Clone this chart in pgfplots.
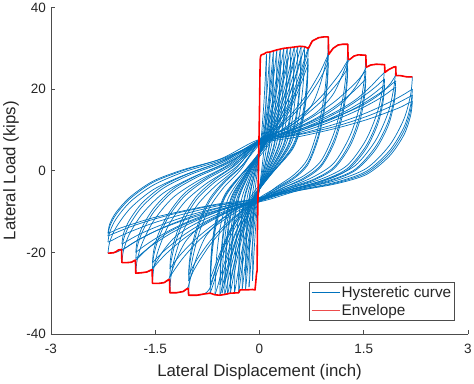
\documentclass[border=0pt]{standalone}
\usepackage{fontspec}
\setmainfont{Liberation Sans}
\usepackage{pgfplots}
\pgfplotsset{compat=1.18}
\definecolor{hblue}{rgb}{0,0.447,0.741}
\definecolor{axgray}{gray}{0.3}
\definecolor{legred}{rgb}{0.93,0.3,0.3}
\pgfplotsset{hy/.style={color=hblue, line width=0.7bp, smooth, forget plot, mark=none}}
\begin{document}
\begin{tikzpicture}
\begin{axis}[
  scale only axis, width=417bp, height=326.5bp,
  xmin=-3, xmax=3, ymin=-40, ymax=40,
  axis lines=left, axis line style={-, draw=axgray, line width=0.6bp},
  xtick={-3,-1.5,0,1.5,3}, xticklabels={-3,-1.5,0,1.5,3},
  ytick={-40,-20,0,20,40}, yticklabels={-40,-20,0,20,40},
  tick align=inside, major tick length=4bp,
  tick style={draw=axgray, line width=0.6bp},
  ticklabel style={font=\fontsize{13.5bp}{16bp}\selectfont, text=black!85},
  xticklabel style={yshift=-7bp},
  yticklabel style={xshift=-1.5bp},
  xlabel={Lateral Displacement (inch)}, ylabel={Lateral Load (kips)},
  every axis x label/.style={at={(axis description cs:0.5,0)}, anchor=center, yshift=-38.3bp,
    font=\fontsize{16.8bp}{20bp}\selectfont, text=black!85},
  every axis y label/.style={at={(axis description cs:-0.096,0.5)}, rotate=90, anchor=center,
    font=\fontsize{16.8bp}{20bp}\selectfont, text=black!85},
  legend cell align=left,
  legend style={at={(0.969,0.04)}, anchor=south east, draw=axgray, line width=0.6bp, fill=white,
    font=\fontsize{15.3bp}{17bp}\selectfont, text=black!85, row sep=3bp, inner sep=2bp,
    nodes={inner sep=1.5bp}},
  legend image code/.code={\draw[#1] (0bp,0bp) -- (28bp,0bp);},
]
% ---------------- small cycles ----------------
\addplot[hy] coordinates {(-0.1,-27) (-0.097,-19.4) (-0.088,-12.2) (-0.07,-5.9) (-0.04,-1.4) (0,4.2) (0.03,9.1) (0.06,15.7) (0.082,22.2) (0.094,26.5) (0.1,28.5)};
\addplot[hy] coordinates {(0.1,28.5) (0.097,20.5) (0.088,12.8) (0.07,6.3) (0.04,1.4) (0,-4.2) (-0.03,-8.6) (-0.06,-14.9) (-0.082,-21.1) (-0.094,-25.1) (-0.1,-27)};
\addplot[hy] coordinates {(-0.15,-28.5) (-0.146,-20.5) (-0.132,-12.8) (-0.105,-6.3) (-0.06,-1.4) (0,4.3) (0.045,9.3) (0.09,16) (0.123,22.6) (0.141,27) (0.15,29)};
\addplot[hy] coordinates {(0.15,29) (0.146,20.9) (0.132,13.1) (0.105,6.4) (0.06,1.5) (0,-4.3) (-0.045,-9.1) (-0.09,-15.7) (-0.123,-22.2) (-0.141,-26.5) (-0.15,-28.5)};
\addplot[hy] coordinates {(-0.2,-29) (-0.194,-20.9) (-0.176,-13.1) (-0.14,-6.4) (-0.08,-1.5) (0,4.4) (0.06,9.4) (0.12,16.1) (0.164,22.9) (0.188,27.2) (0.2,29.3)};
\addplot[hy] coordinates {(0.2,29.3) (0.194,21.1) (0.176,13.2) (0.14,6.4) (0.08,1.5) (0,-4.4) (-0.06,-9.3) (-0.12,-16) (-0.164,-22.6) (-0.188,-27) (-0.2,-29)};
\addplot[hy] coordinates {(-0.2,-25.5) (-0.194,-18.4) (-0.176,-11.5) (-0.14,-5.6) (-0.08,-1.3) (0,3.9) (0.06,8.3) (0.12,14.3) (0.164,20.3) (0.188,24.2) (0.2,26)};
\addplot[hy] coordinates {(0.2,26) (0.194,18.7) (0.176,11.7) (0.14,5.7) (0.08,1.3) (0,-3.9) (-0.06,-8.2) (-0.12,-14) (-0.164,-19.9) (-0.188,-23.7) (-0.2,-25.5)};
\addplot[hy] coordinates {(-0.25,-29.2) (-0.243,-21) (-0.22,-13.1) (-0.175,-6.4) (-0.1,-1.5) (0,4.4) (0.075,9.5) (0.15,16.3) (0.205,23.1) (0.235,27.5) (0.25,29.6)};
\addplot[hy] coordinates {(0.25,29.6) (0.243,21.3) (0.22,13.3) (0.175,6.5) (0.1,1.5) (0,-4.4) (-0.075,-9.3) (-0.15,-16.1) (-0.205,-22.8) (-0.235,-27.2) (-0.25,-29.2)};
\addplot[hy] coordinates {(-0.3,-29.9) (-0.291,-21.5) (-0.264,-13.5) (-0.21,-6.6) (-0.12,-1.5) (0,4.5) (0.09,9.5) (0.18,16.4) (0.246,23.2) (0.282,27.7) (0.3,29.8)};
\addplot[hy] coordinates {(0.3,29.8) (0.291,21.5) (0.264,13.4) (0.21,6.6) (0.12,1.5) (0,-4.5) (-0.09,-9.6) (-0.18,-16.4) (-0.246,-23.3) (-0.282,-27.8) (-0.3,-29.9)};
\addplot[hy] coordinates {(-0.3,-26.8) (-0.291,-19.3) (-0.264,-12.1) (-0.21,-5.9) (-0.12,-1.3) (0,4) (0.09,8.6) (0.18,14.9) (0.246,21.1) (0.282,25.1) (0.3,27)};
\addplot[hy] coordinates {(0.3,27) (0.291,19.4) (0.264,12.2) (0.21,5.9) (0.12,1.4) (0,-4) (-0.09,-8.6) (-0.18,-14.7) (-0.246,-20.9) (-0.282,-24.9) (-0.3,-26.8)};
\addplot[hy] coordinates {(-0.36,-29.9) (-0.349,-21.5) (-0.317,-13.5) (-0.252,-6.6) (-0.144,-1.5) (0,4.5) (0.105,9.6) (0.21,16.5) (0.287,23.4) (0.329,27.9) (0.35,30)};
\addplot[hy] coordinates {(0.35,30) (0.34,21.6) (0.308,13.5) (0.245,6.6) (0.14,1.5) (0,-4.5) (-0.108,-9.6) (-0.216,-16.5) (-0.295,-23.4) (-0.338,-27.9) (-0.36,-29.9)};
\addplot[hy] coordinates {(-0.42,-30) (-0.407,-21.6) (-0.37,-13.5) (-0.294,-6.6) (-0.168,-1.5) (0,4.5) (0.12,9.6) (0.24,16.6) (0.328,23.5) (0.376,28) (0.4,30.1)};
\addplot[hy] coordinates {(0.4,30.1) (0.388,21.7) (0.352,13.5) (0.28,6.6) (0.16,1.5) (0,-4.5) (-0.126,-9.6) (-0.252,-16.5) (-0.344,-23.4) (-0.395,-27.9) (-0.42,-30)};
\addplot[hy] coordinates {(-0.42,-27.5) (-0.407,-19.8) (-0.37,-12.4) (-0.294,-6.1) (-0.168,-1.4) (0,4.1) (0.12,8.8) (0.24,15.1) (0.328,21.5) (0.376,25.6) (0.4,27.5)};
\addplot[hy] coordinates {(0.4,27.5) (0.388,19.8) (0.352,12.4) (0.28,6.1) (0.16,1.4) (0,-4.1) (-0.126,-8.8) (-0.252,-15.1) (-0.344,-21.5) (-0.395,-25.6) (-0.42,-27.5)};
\addplot[hy] coordinates {(-0.46,-30.3) (-0.446,-21.8) (-0.405,-13.6) (-0.322,-6.7) (-0.184,-1.5) (0,4.5) (0.135,9.7) (0.27,16.6) (0.369,23.6) (0.423,28.1) (0.45,30.2)};
\addplot[hy] coordinates {(0.45,30.2) (0.437,21.7) (0.396,13.6) (0.315,6.6) (0.18,1.5) (0,-4.5) (-0.138,-9.7) (-0.276,-16.7) (-0.377,-23.6) (-0.432,-28.2) (-0.46,-30.3)};
\addplot[hy] coordinates {(-0.5,-30.3) (-0.485,-21.8) (-0.44,-13.6) (-0.35,-6.7) (-0.2,-1.5) (0,4.5) (0.15,9.7) (0.3,16.7) (0.41,23.6) (0.47,28.2) (0.5,30.3)};
\addplot[hy] coordinates {(0.5,30.3) (0.485,21.8) (0.44,13.6) (0.35,6.7) (0.2,1.5) (0,-4.5) (-0.15,-9.7) (-0.3,-16.7) (-0.41,-23.6) (-0.47,-28.2) (-0.5,-30.3)};
\addplot[hy] coordinates {(-0.5,-27.5) (-0.485,-19.8) (-0.44,-12.4) (-0.35,-6.1) (-0.2,-1.4) (0,4.1) (0.15,8.9) (0.3,15.3) (0.41,21.7) (0.47,25.9) (0.5,27.8)};
\addplot[hy] coordinates {(0.5,27.8) (0.485,20) (0.44,12.5) (0.35,6.1) (0.2,1.4) (0,-4.1) (-0.15,-8.8) (-0.3,-15.1) (-0.41,-21.5) (-0.47,-25.6) (-0.5,-27.5)};
\addplot[hy] coordinates {(-0.54,-30) (-0.524,-21.6) (-0.475,-13.5) (-0.378,-6.6) (-0.216,-1.5) (0,4.5) (0.165,9.7) (0.33,16.7) (0.451,23.7) (0.517,28.3) (0.55,30.4)};
\addplot[hy] coordinates {(0.55,30.4) (0.534,21.9) (0.484,13.7) (0.385,6.7) (0.22,1.5) (0,-4.5) (-0.162,-9.6) (-0.324,-16.5) (-0.443,-23.4) (-0.508,-27.9) (-0.54,-30)};
\addplot[hy] coordinates {(-0.57,-30.5) (-0.553,-22) (-0.502,-13.7) (-0.399,-6.7) (-0.228,-1.5) (0,4.6) (0.18,9.8) (0.36,16.8) (0.492,23.8) (0.564,28.4) (0.6,30.5)};
\addplot[hy] coordinates {(0.6,30.5) (0.582,22) (0.528,13.7) (0.42,6.7) (0.24,1.5) (0,-4.6) (-0.171,-9.8) (-0.342,-16.8) (-0.467,-23.8) (-0.536,-28.4) (-0.57,-30.5)};
\addplot[hy] coordinates {(-0.57,-28) (-0.553,-20.2) (-0.502,-12.6) (-0.399,-6.2) (-0.228,-1.4) (0,4.2) (0.18,9) (0.36,15.4) (0.492,21.8) (0.564,26) (0.6,28)};
\addplot[hy] coordinates {(0.6,28) (0.582,20.2) (0.528,12.6) (0.42,6.2) (0.24,1.4) (0,-4.2) (-0.171,-9) (-0.342,-15.4) (-0.467,-21.8) (-0.536,-26) (-0.57,-28)};
\addplot[hy] coordinates {(-0.64,-30.4) (-0.621,-21.9) (-0.563,-13.7) (-0.448,-6.7) (-0.256,-1.5) (0,4.5) (0.195,9.7) (0.39,16.7) (0.533,23.6) (0.611,28.2) (0.65,30.3)};
\addplot[hy] coordinates {(0.65,30.3) (0.631,21.8) (0.572,13.6) (0.455,6.7) (0.26,1.5) (0,-4.5) (-0.192,-9.7) (-0.384,-16.7) (-0.525,-23.7) (-0.602,-28.3) (-0.64,-30.4)};
\addplot[hy] coordinates {(-0.71,-30) (-0.689,-21.6) (-0.625,-13.5) (-0.497,-6.6) (-0.284,-1.5) (0,4.5) (0.21,9.6) (0.42,16.5) (0.574,23.4) (0.658,27.9) (0.7,30)};
\addplot[hy] coordinates {(0.7,30) (0.679,21.6) (0.616,13.5) (0.49,6.6) (0.28,1.5) (0,-4.5) (-0.213,-9.6) (-0.426,-16.5) (-0.582,-23.4) (-0.667,-27.9) (-0.71,-30)};
\addplot[hy] coordinates {(-0.71,-28) (-0.689,-20.2) (-0.625,-12.6) (-0.497,-6.2) (-0.284,-1.4) (0,4.1) (0.21,8.8) (0.42,15.1) (0.574,21.5) (0.658,25.6) (0.7,27.5)};
\addplot[hy] coordinates {(0.7,27.5) (0.679,19.8) (0.616,12.4) (0.49,6.1) (0.28,1.4) (0,-4.1) (-0.213,-9) (-0.426,-15.4) (-0.582,-21.8) (-0.667,-26) (-0.71,-28)};
\addplot[hy] coordinates {(-0.71,-26.5) (-0.689,-19.1) (-0.625,-11.9) (-0.497,-5.8) (-0.284,-1.3) (0,3.5) (0.21,8.3) (0.42,14.3) (0.574,20.3) (0.658,24.2) (0.7,26)};
\addplot[hy] coordinates {(0.7,26) (0.679,18.7) (0.616,11.7) (0.49,5.7) (0.28,1.3) (0,-3.5) (-0.213,-8.5) (-0.426,-14.6) (-0.582,-20.7) (-0.667,-24.6) (-0.71,-26.5)};
% ---------------- large cycles ----------------
% amplitude ~1.0
\addplot[hy] coordinates {(-1.02,-30.5) (-1.008,-26.6) (-0.964,-21.6) (-0.867,-15.1) (-0.714,-8.9) (-0.51,-4.0) (-0.255,0.6) (0,7.5) (0.2,10.5) (0.4,15) (0.55,21) (0.65,26.5) (0.72,30.5) (0.76,31.8) (0.85,32.6) (0.93,32.8) (0.99,32.8)};
\addplot[hy] coordinates {(0.99,32.8) (0.978,26.9) (0.936,19.0) (0.842,10.4) (0.693,2.9) (0.495,-1.0) (0.248,-3.9) (0,-7.2) (-0.2,-9.8) (-0.4,-14) (-0.55,-20) (-0.65,-25.5) (-0.72,-29) (-0.8,-30.2) (-0.9,-30.5) (-1.02,-30.5)};
\addplot[hy] coordinates {(-1.02,-27) (-1.008,-23.5) (-0.964,-19.0) (-0.867,-13.1) (-0.714,-7.4) (-0.51,-3.0) (-0.255,1.2) (0,7) (0.248,10.4) (0.495,14.6) (0.693,19.0) (0.842,23.2) (0.921,25.9) (0.96,27.4) (0.99,28.5)};
\addplot[hy] coordinates {(0.99,28.5) (0.978,23.3) (0.936,16.3) (0.842,8.5) (0.693,1.9) (0.495,-1.6) (0.248,-4.1) (0,-6.6) (-0.255,-10) (-0.51,-14.1) (-0.714,-18.2) (-0.867,-22.1) (-0.949,-24.5) (-0.989,-26) (-1.02,-27)};
\addplot[hy] coordinates {(-1.02,-25.5) (-1.008,-22.1) (-0.964,-17.8) (-0.867,-12.2) (-0.714,-6.8) (-0.51,-2.6) (-0.255,1.2) (0,6.4) (0.248,9.9) (0.495,13.9) (0.693,17.9) (0.842,21.7) (0.921,24.1) (0.96,25.5) (0.99,26.5)};
\addplot[hy] coordinates {(0.99,26.5) (0.978,21.6) (0.936,15) (0.842,7.7) (0.693,1.4) (0.495,-1.9) (0.248,-4.4) (0,-7.4) (-0.255,-9.9) (-0.51,-13.5) (-0.714,-17.3) (-0.867,-20.9) (-0.949,-23.2) (-0.989,-24.6) (-1.02,-25.5)};
% amplitude ~1.27
\addplot[hy] coordinates {(-1.29,-29.9) (-1.275,-26.1) (-1.219,-21.2) (-1.097,-14.8) (-0.903,-8.6) (-0.645,-3.9) (-0.323,0.8) (0,7.8) (0.3,9.6) (0.55,12.2) (0.75,16) (0.87,21) (0.95,26) (1.0,28.6) (1.06,30.0) (1.13,30.8) (1.2,31.0) (1.27,31.0)};
\addplot[hy] coordinates {(1.27,31) (1.255,25.4) (1.2,17.9) (1.08,9.6) (0.889,2.5) (0.635,-1.25) (0.318,-3.9) (0,-6.8) (-0.3,-9) (-0.55,-12) (-0.77,-16) (-0.9,-21) (-0.98,-25.5) (-1.03,-28.6) (-1.10,-29.6) (-1.2,-29.9) (-1.29,-29.9)};
\addplot[hy] coordinates {(-1.29,-26) (-1.275,-22.6) (-1.219,-18.2) (-1.097,-12.5) (-0.903,-7.0) (-0.645,-2.8) (-0.323,1.1) (0,6.8) (0.318,10.0) (0.635,14.1) (0.889,18.2) (1.08,22.1) (1.181,24.5) (1.232,26.0) (1.27,27)};
\addplot[hy] coordinates {(1.27,27) (1.255,22.0) (1.2,15.3) (1.08,7.9) (0.889,1.5) (0.635,-1.8) (0.318,-4.4) (0,-7.6) (-0.323,-10) (-0.645,-13.7) (-0.903,-17.6) (-1.097,-21.3) (-1.2,-23.7) (-1.251,-25) (-1.29,-26)};
\addplot[hy] coordinates {(-1.29,-24) (-1.275,-20.8) (-1.219,-16.7) (-1.097,-11.3) (-0.903,-6.2) (-0.645,-2.2) (-0.323,1.7) (0,7.3) (0.318,9.8) (0.635,13.3) (0.889,17.0) (1.08,20.6) (1.181,22.8) (1.232,24.1) (1.27,25)};
\addplot[hy] coordinates {(1.27,25) (1.255,20.3) (1.2,14) (1.08,7) (0.889,1.1) (0.635,-2.1) (0.318,-4.3) (0,-7) (-0.323,-9.5) (-0.645,-13) (-0.903,-16.5) (-1.097,-19.8) (-1.2,-21.9) (-1.251,-23.1) (-1.29,-24)};
% amplitude ~1.53
\addplot[hy] coordinates {(-1.54,-27.6) (-1.522,-24) (-1.455,-19.4) (-1.309,-13.4) (-1.078,-7.7) (-0.77,-3.2) (-0.385,1.1) (0,7.6) (0.4,10.2) (0.8,14) (1.05,18.5) (1.18,23) (1.26,26.3) (1.30,27.3) (1.36,28.1) (1.42,28.4) (1.53,28.3)};
\addplot[hy] coordinates {(1.53,28.3) (1.512,23.1) (1.446,16.1) (1.301,8.5) (1.071,1.9) (0.765,-1.6) (0.383,-4.3) (0,-7.3) (-0.4,-9.7) (-0.8,-13) (-1.05,-17) (-1.19,-21.5) (-1.27,-25) (-1.31,-26.7) (-1.37,-27.4) (-1.45,-27.6) (-1.54,-27.6)};
\addplot[hy] coordinates {(-1.54,-24) (-1.522,-20.8) (-1.455,-16.7) (-1.309,-11.3) (-1.078,-6.2) (-0.77,-2.2) (-0.385,1.5) (0,6.6) (0.383,9.6) (0.765,13.2) (1.071,16.8) (1.301,20.2) (1.423,22.3) (1.484,23.6) (1.53,24.5)};
\addplot[hy] coordinates {(1.53,24.5) (1.512,19.85) (1.446,13.65) (1.301,6.8) (1.071,0.9) (0.765,-2.2) (0.383,-4.3) (0,-6.7) (-0.385,-9.5) (-0.77,-13) (-1.078,-16.5) (-1.309,-19.8) (-1.432,-21.9) (-1.494,-23.1) (-1.54,-24)};
\addplot[hy] coordinates {(-1.54,-22.5) (-1.522,-19.5) (-1.455,-15.5) (-1.309,-10.5) (-1.078,-5.5) (-0.77,-1.8) (-0.385,1.9) (0,7.2) (0.383,9.4) (0.765,12.4) (1.071,15.6) (1.301,18.7) (1.423,20.6) (1.484,21.7) (1.53,22.5)};
\addplot[hy] coordinates {(1.53,22.5) (1.512,18.15) (1.446,12.35) (1.301,6) (1.071,0.5) (0.765,-2.4) (0.383,-4.6) (0,-7.5) (-0.385,-9.4) (-0.77,-12.4) (-1.078,-15.6) (-1.309,-18.7) (-1.432,-20.6) (-1.494,-21.7) (-1.54,-22.5)};
% amplitude ~1.8
\addplot[hy] coordinates {(-1.78,-25.1) (-1.759,-21.8) (-1.682,-17.5) (-1.513,-12) (-1.246,-6.6) (-0.89,-2.5) (-0.445,1.5) (0,7.4) (0.45,10) (0.9,13.3) (1.2,16.8) (1.38,20.5) (1.48,23.5) (1.54,25.4) (1.60,25.9) (1.68,26.1) (1.80,26.0)};
\addplot[hy] coordinates {(1.8,26) (1.778,21.1) (1.701,14.6) (1.53,7.5) (1.26,1.3) (0.9,-1.95) (0.45,-4.3) (0,-7.1) (-0.45,-9.6) (-0.9,-12.8) (-1.2,-16) (-1.38,-19.5) (-1.49,-22.5) (-1.55,-24.2) (-1.62,-24.8) (-1.70,-25.0) (-1.78,-25.1)};
\addplot[hy] coordinates {(-1.78,-21.5) (-1.759,-18.6) (-1.682,-14.8) (-1.513,-9.9) (-1.246,-5.1) (-0.89,-1.5) (-0.445,1.9) (0,6.9) (0.45,9.3) (0.9,12.4) (1.26,15.6) (1.53,18.7) (1.674,20.6) (1.746,21.7) (1.8,22.5)};
\addplot[hy] coordinates {(1.8,22.5) (1.778,18.15) (1.701,12.35) (1.53,6) (1.26,0.5) (0.9,-2.4) (0.45,-4.6) (0,-6.9) (-0.445,-9.05) (-0.89,-12.05) (-1.246,-15.05) (-1.513,-17.9) (-1.655,-19.7) (-1.727,-20.75) (-1.78,-21.5)};
\addplot[hy] coordinates {(-1.78,-20) (-1.759,-17.2) (-1.682,-13.6) (-1.513,-9) (-1.246,-4.5) (-0.89,-1.1) (-0.445,2.1) (0,6.6) (0.45,9) (0.9,11.9) (1.26,14.8) (1.53,17.5) (1.674,19.3) (1.746,20.3) (1.8,21)};
\addplot[hy] coordinates {(1.8,21) (1.778,16.9) (1.701,11.4) (1.53,5.3) (1.26,0.1) (0.9,-2.65) (0.45,-4.7) (0,-7.3) (-0.445,-8.9) (-0.89,-11.5) (-1.246,-14.2) (-1.513,-16.8) (-1.655,-18.4) (-1.727,-19.3) (-1.78,-20)};
% amplitude ~1.96
\addplot[hy] coordinates {(-1.98,-22.5) (-1.956,-19.5) (-1.871,-15.5) (-1.683,-10.5) (-1.386,-5.5) (-0.99,-1.8) (-0.495,1.9) (0,7.1) (0.5,10.1) (1.0,13.6) (1.35,17) (1.58,20.3) (1.72,22.8) (1.80,24.1) (1.86,24.8) (1.93,25.4) (1.96,25.5)};
\addplot[hy] coordinates {(1.96,25.5) (1.936,20.7) (1.852,14.3) (1.666,7.3) (1.372,1.2) (0.98,-2) (0.49,-4.4) (0,-7) (-0.5,-9.4) (-1.0,-12.5) (-1.35,-15.5) (-1.57,-18.5) (-1.70,-20.6) (-1.78,-21.9) (-1.84,-22.4) (-1.92,-22.5) (-1.98,-22.5)};
\addplot[hy] coordinates {(-1.98,-19.5) (-1.956,-16.8) (-1.871,-13.3) (-1.683,-8.7) (-1.386,-4.3) (-0.99,-0.9) (-0.495,2.3) (0,7.5) (0.49,9.4) (0.98,12.2) (1.372,15.3) (1.666,18.3) (1.823,20.1) (1.901,21.2) (1.96,22)};
\addplot[hy] coordinates {(1.96,22) (1.936,17.7) (1.852,12) (1.666,5.8) (1.372,0.3) (0.98,-2.5) (0.49,-4.5) (0,-6.6) (-0.495,-8.7) (-0.99,-11.3) (-1.386,-13.9) (-1.683,-16.4) (-1.841,-17.9) (-1.921,-18.85) (-1.98,-19.5)};
\addplot[hy] coordinates {(-1.98,-18) (-1.956,-15.4) (-1.871,-12.1) (-1.683,-7.8) (-1.386,-3.7) (-0.99,-0.5) (-0.495,2.6) (0,6.8) (0.49,8.9) (0.98,11.7) (1.372,14.5) (1.666,17.1) (1.823,18.8) (1.901,19.8) (1.96,20.5)};
\addplot[hy] coordinates {(1.96,20.5) (1.936,16.5) (1.852,11.05) (1.666,5.1) (1.372,0) (0.98,-2.7) (0.49,-4.8) (0,-7.4) (-0.495,-8.7) (-0.99,-10.8) (-1.386,-13.1) (-1.683,-15.2) (-1.841,-16.6) (-1.921,-17.4) (-1.98,-18)};
% amplitude ~2.2
\addplot[hy] coordinates {(-2.18,-20.2) (-2.154,-17.4) (-2.06,-13.8) (-1.853,-9.1) (-1.526,-4.6) (-1.09,-1.1) (-0.545,2.3) (0,7.3) (0.55,10) (1.1,13.2) (1.5,16.2) (1.75,19) (1.89,21.5) (1.96,23.3) (2.03,23.3) (2.12,23.0) (2.2,23.0)};
\addplot[hy] coordinates {(2.2,23) (2.174,18.6) (2.079,12.7) (1.87,6.2) (1.54,0.6) (1.1,-2.4) (0.55,-4.5) (0,-7.2) (-0.55,-9.4) (-1.1,-12.2) (-1.5,-14.8) (-1.75,-17) (-1.9,-18.6) (-1.99,-19.4) (-2.05,-19.9) (-2.1,-20.1) (-2.18,-20.2)};
\addplot[hy] coordinates {(-2.18,-17.5) (-2.154,-15) (-2.06,-11.7) (-1.853,-7.5) (-1.526,-3.5) (-1.09,-0.3) (-0.545,2.6) (0,6.9) (0.55,8.9) (1.1,11.5) (1.54,14.2) (1.87,16.8) (2.046,18.4) (2.134,19.3) (2.2,20)};
\addplot[hy] coordinates {(2.2,20) (2.174,16) (2.079,10.7) (1.87,4.9) (1.54,-0.1) (1.1,-2.8) (0.55,-4.7) (0,-6.8) (-0.545,-8.4) (-1.09,-10.6) (-1.526,-12.8) (-1.853,-14.9) (-2.027,-16.2) (-2.115,-17) (-2.18,-17.5)};
\addplot[hy] coordinates {(-2.18,-16) (-2.154,-13.6) (-2.06,-10.6) (-1.853,-6.7) (-1.526,-2.8) (-1.09,0.1) (-0.545,3) (0,7.7) (0.55,8.8) (1.1,10.9) (1.54,13.3) (1.87,15.6) (2.046,17.1) (2.134,17.9) (2.2,18.5)};
\addplot[hy] coordinates {(2.2,18.5) (2.174,14.75) (2.079,9.75) (1.87,4.25) (1.54,-0.5) (1.1,-3) (0.55,-4.9) (0,-7.6) (-0.545,-8.2) (-1.09,-10) (-1.526,-11.9) (-1.853,-13.7) (-2.027,-14.9) (-2.115,-15.5) (-2.18,-16)};
\addplot[hy] coordinates {(-2.18,-15.3) (-2.154,-13) (-2.06,-10.1) (-1.853,-6.3) (-1.526,-2.5) (-1.09,0.3) (-0.545,2.9) (0,6.7) (0.55,8.3) (1.1,10.4) (1.54,12.5) (1.87,14.5) (2.046,15.7) (2.134,16.5) (2.2,17)};
\addplot[hy] coordinates {(2.2,17) (2.174,13.5) (2.079,8.8) (1.87,3.6) (1.54,-0.9) (1.1,-3.2) (0.55,-4.9) (0,-6.9) (-0.545,-8) (-1.09,-9.8) (-1.526,-11.5) (-1.853,-13.2) (-2.027,-14.2) (-2.115,-14.9) (-2.18,-15.3)};
% ---------------- envelope ----------------
\addplot[red, line width=1.6bp, forget plot, line join=round] coordinates {
(-2.18,-20.2) (-2.10,-20.1) (-2.06,-19.8) (-2.03,-19.4) (-1.985,-19.3) (-1.98,-22.5) (-1.90,-22.5) (-1.84,-22.4) (-1.80,-22.0) (-1.785,-21.9)
(-1.78,-25.1) (-1.70,-25.0) (-1.62,-24.8) (-1.57,-24.4) (-1.545,-24.2) (-1.54,-27.6) (-1.45,-27.6) (-1.37,-27.4) (-1.32,-26.8) (-1.295,-26.6)
(-1.29,-29.9) (-1.2,-29.9) (-1.10,-29.6) (-1.05,-29.0) (-1.025,-28.8) (-1.02,-30.5) (-0.9,-30.5) (-0.8,-30.2) (-0.71,-30.0) (-0.64,-30.4)
(-0.57,-30.5) (-0.5,-30.3) (-0.42,-30.0) (-0.30,-29.9) (-0.28,-29.2) (-0.2,-29.2) (-0.1,-29.1) (-0.065,-29.2) (-0.055,-27.6) (-0.045,-25.5)
(-0.035,-24.5) (-0.03,-15) (-0.02,-5) (-0.01,5) (0.0,15) (0.008,25) (0.012,27.8) (0.025,28.4) (0.065,28.6) (0.10,29.0) (0.15,29.1)
(0.247,29.6) (0.35,30.0) (0.45,30.2) (0.583,30.5) (0.65,30.4) (0.70,30.0) (0.72,30.5) (0.76,31.8) (0.85,32.6) (0.93,32.8) (0.99,32.8)
(0.995,28.5) (1.0,28.6) (1.06,30.0) (1.13,30.8) (1.2,31.0) (1.27,31.0) (1.275,27.3) (1.30,27.3) (1.36,28.1) (1.42,28.4) (1.53,28.3)
(1.535,25.4) (1.54,25.4) (1.60,25.9) (1.68,26.1) (1.80,26.0) (1.805,24.1) (1.86,24.8) (1.93,25.4) (1.96,25.5) (1.965,23.3) (2.03,23.3)
(2.12,23.0) (2.2,23.0)};
\addlegendimage{hblue, line width=1bp}
\addlegendentry{Hysteretic curve}
\addlegendimage{legred, line width=1bp}
\addlegendentry{Envelope}
\end{axis}
\pgfresetboundingbox
\useasboundingbox (-51bp,-50bp) rectangle (423bp,334bp);
\end{tikzpicture}
\end{document}
